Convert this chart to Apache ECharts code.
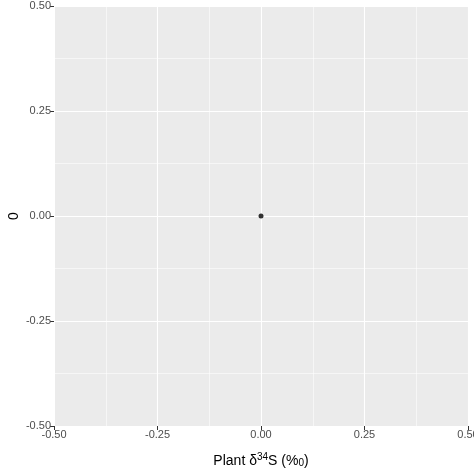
<!DOCTYPE html>
<html><head><meta charset="utf-8">
<script src="https://cdn.jsdelivr.net/npm/echarts@6/dist/echarts.min.js"></script>
<style>html,body{margin:0;padding:0;background:#fff}#c{width:474px;height:473px}</style>
</head><body><div id="c"></div>
<script>
var xValues = [0];
var yValues = [0];
var xTicks = [-0.5, -0.25, 0, 0.25, 0.5];
var yTicks = [-0.5, -0.25, 0, 0.25, 0.5];
var minorTicks = [-0.375, -0.125, 0.125, 0.375];
var yTitle = '0';

var chart = echarts.init(document.getElementById('c'), null, {renderer: 'canvas'});
function fmt(v){ return v.toFixed(2); }
var pts = xValues.map(function(x, i){ return [x, yValues[i]]; });
var common = {
  min: -0.5, max: 0.5, interval: 0.25,
  axisLine: {show: false, onZero: false},
  axisTick: {show: true, length: 4, lineStyle: {color: '#333333', width: 1}},
  axisLabel: {color: '#4D4D4D', fontSize: 11, fontFamily: 'Liberation Sans, Arial, sans-serif', formatter: fmt, margin: 3},
  splitLine: {show: true, lineStyle: {color: '#FFFFFF', width: 1.1}},
  minorTick: {show: false, splitNumber: 2},
  minorSplitLine: {show: true, lineStyle: {color: '#FFFFFF', width: 0.55}}
};
chart.setOption({
  animation: false,
  grid: {left: 54, right: 6, top: 6, bottom: 47, show: true, backgroundColor: '#EBEBEB', borderWidth: 0,
         containLabel: false, outerBoundsMode: 'none'},
  graphic: [{
    type: 'text', x: 14, y: 216, rotation: Math.PI / 2,
    style: {text: yTitle, fontSize: 14, fill: '#000', fontFamily: 'Liberation Sans, Arial, sans-serif',
            align: 'center', verticalAlign: 'middle'}
  }],
  xAxis: Object.assign({}, common, {
    type: 'value',
    name: '{a|Plant δ}{s|34}{a|S (%}{b|0}{a|)}',
    nameLocation: 'middle', nameGap: 26, nameMoveOverlap: false,
    nameTextStyle: {
      rich: {
        a: {fontSize: 14, color: '#000', fontFamily: 'Liberation Sans, Arial, sans-serif', verticalAlign: 'bottom', lineHeight: 16},
        s: {fontSize: 10, color: '#000', fontFamily: 'Liberation Sans, Arial, sans-serif', verticalAlign: 'top', padding: [0,0,6,0], lineHeight: 16},
        b: {fontSize: 10, color: '#000', fontFamily: 'Liberation Sans, Arial, sans-serif', verticalAlign: 'bottom', padding: [4,0,0,0], lineHeight: 16}
      }
    }
  }),
  yAxis: Object.assign({}, common, {
    type: 'value'
  }),
  series: [{
    type: 'scatter', data: pts, symbolSize: 5,
    itemStyle: {color: '#000000'}
  }]
});
</script></body></html>
